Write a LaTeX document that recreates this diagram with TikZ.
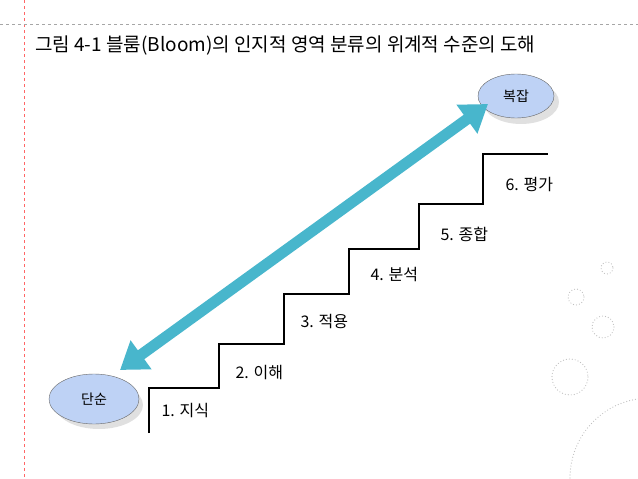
\documentclass[tikz,border=0pt]{standalone}
\usepackage{fontspec}
\setmainfont{Liberation Sans}
\newfontfamily\kr{Noto Sans CJK KR}
\usetikzlibrary{arrows.meta,shapes.geometric}
\definecolor{arr}{RGB}{72,182,204}
\definecolor{ell}{RGB}{190,210,245}
\tikzset{
 bubble/.style={ellipse,draw=black!60,fill=ell,font=\kr\fontsize{14}{16}\selectfont,inner sep=0pt},
 lbl/.style={font=\kr\fontsize{16}{18}\selectfont,anchor=west},
 dots/.style={draw=black!25,line width=1.2pt,dash pattern=on 0pt off 3pt,line cap=round}
}
\begin{document}
\begin{tikzpicture}[x=1pt,y=-1pt]
\useasboundingbox (0,0) rectangle (638,479);
\draw[red!60,dashed,line width=0.4pt] (24,0) -- (24,479);
\draw[black!35,dashed,line width=0.4pt] (0,24) -- (638,24);
\node[anchor=west,font=\kr\fontsize{19}{21}\selectfont,inner sep=0pt] (title) at (35,46) {그림 4-1 블룸(Bloom)의 인지적 영역 분류의 위계적 수준의 도해};
% dotted decoration
\draw[dots] (607,268) circle (6);
\draw[dots] (576,297) circle (8);
\draw[dots] (603,327) circle (11);
\draw[dots] (570,377) circle (18);
\draw[dots] (650,478) ++(180:80) arc (180:265:80);
% ellipses
\node[bubble,minimum width=88,minimum height=48,fill=black!12,draw=none] at (99,405) {};
\node[bubble,minimum width=90,minimum height=50] (s) at (94,399) {단순};
\node[bubble,minimum width=76,minimum height=44,fill=black!12,draw=none] at (521,102) {};
\node[bubble,minimum width=76,minimum height=44] (c) at (516,96) {복잡};
% arrow
\coordinate (a1) at (120,370);
\coordinate (a2) at (488,104);
\draw[arr,line width=11pt,{Triangle[width=34pt,length=26pt]}-{Triangle[width=34pt,length=26pt]}] (a1) -- (a2);
% stairs
\draw[line width=1.5pt] (149,433) -- (149,388) -- (219,388) -- (219,344) -- (284,344) -- (284,294) -- (349,294) -- (349,249) -- (419,249) -- (419,204) -- (483,204) -- (483,154) -- (548,154);
\node[lbl] (l1) at (158,411) {1. 지식};
\node[lbl] (l2) at (232,373) {2. 이해};
\node[lbl] (l3) at (297,322) {3. 적용};
\node[lbl] (l4) at (367,275) {4. 분석};
\node[lbl] (l5) at (437,234) {5. 종합};
\node[lbl] (l6) at (502,184) {6. 평가};
\end{tikzpicture}
\end{document}
